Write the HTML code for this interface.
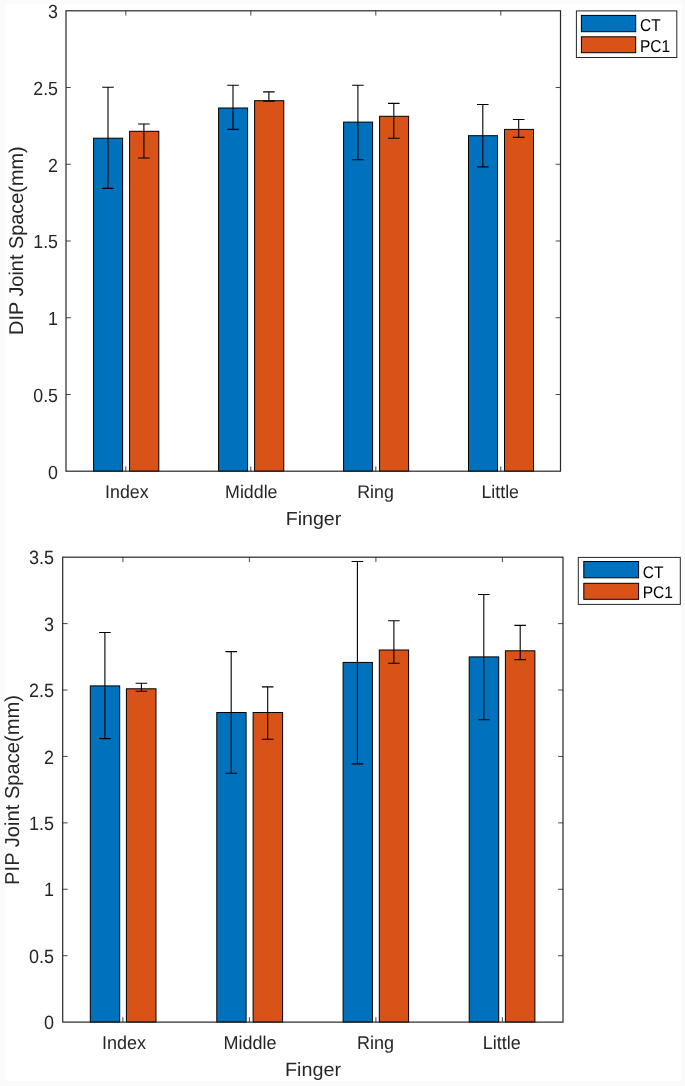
<!DOCTYPE html>
<html><head><meta charset="utf-8"><title>Joint Space</title>
<style>
html,body{margin:0;padding:0;background:#fafafa;}
body{width:685px;height:1086px;overflow:hidden;position:relative;}
#page{position:absolute;left:4.5px;top:4px;width:676.8px;height:1077px;background:#fff;}
svg{position:absolute;left:0;top:0;display:block;text-rendering:geometricPrecision;filter:blur(0.35px);font-family:"Liberation Sans", Arial, Helvetica, sans-serif;}
</style></head><body>
<div id="page"></div>
<svg width="685" height="1086" viewBox="0 0 685 1086">
<g id="chart-dip">
<rect x="93.6" y="138.2" width="29" height="333" fill="#0072BD" stroke="#000" stroke-width="1.0"/>
<rect x="129.6" y="131.3" width="29.2" height="339.9" fill="#D95319" stroke="#000" stroke-width="1.0"/>
<rect x="218.6" y="108" width="29" height="363.2" fill="#0072BD" stroke="#000" stroke-width="1.0"/>
<rect x="254.6" y="100.7" width="29.2" height="370.5" fill="#D95319" stroke="#000" stroke-width="1.0"/>
<rect x="343.6" y="122.1" width="29" height="349.1" fill="#0072BD" stroke="#000" stroke-width="1.0"/>
<rect x="379.6" y="116.3" width="29" height="354.9" fill="#D95319" stroke="#000" stroke-width="1.0"/>
<rect x="468.5" y="135.7" width="29" height="335.5" fill="#0072BD" stroke="#000" stroke-width="1.0"/>
<rect x="504.5" y="129.4" width="29" height="341.8" fill="#D95319" stroke="#000" stroke-width="1.0"/>
<path d="M108 87.2V188.4M102.2 87.2H113.8M102.2 188.4H113.8" fill="none" stroke="#000" stroke-width="1.1"/>
<path d="M143.9 124V158M138.1 124H149.7M138.1 158H149.7" fill="none" stroke="#000" stroke-width="1.1"/>
<path d="M233 85.3V129.4M227.2 85.3H238.8M227.2 129.4H238.8" fill="none" stroke="#000" stroke-width="1.1"/>
<path d="M268.9 91.9V101.1M263.1 91.9H274.7M263.1 101.1H274.7" fill="none" stroke="#000" stroke-width="1.1"/>
<path d="M357.9 85.3V159.8M352.1 85.3H363.7M352.1 159.8H363.7" fill="none" stroke="#000" stroke-width="1.1"/>
<path d="M393.8 103.4V138.2M388 103.4H399.6M388 138.2H399.6" fill="none" stroke="#000" stroke-width="1.1"/>
<path d="M482.8 104.5V166.9M477 104.5H488.6M477 166.9H488.6" fill="none" stroke="#000" stroke-width="1.1"/>
<path d="M518.7 119.5V137.4M512.9 119.5H524.5M512.9 137.4H524.5" fill="none" stroke="#000" stroke-width="1.1"/>
<rect x="66" y="10.8" width="494.5" height="460.4" fill="none" stroke="#262626" stroke-width="1.2"/>
<path d="M125.8 471.2v-4.8M125.8 10.8v4.8M250.8 471.2v-4.8M250.8 10.8v4.8M375.8 471.2v-4.8M375.8 10.8v4.8M500.8 471.2v-4.8M500.8 10.8v4.8M66 394.47h4.8M560.5 394.47h-4.8M66 317.73h4.8M560.5 317.73h-4.8M66 241h4.8M560.5 241h-4.8M66 164.27h4.8M560.5 164.27h-4.8M66 87.53h4.8M560.5 87.53h-4.8" fill="none" stroke="#262626" stroke-width="0.85"/>
<g font-size="17.8" text-anchor="end" fill="#262626">
<text transform="translate(58 478.5) scale(1 1.07)" font-size="17.8" text-anchor="end" fill="#262626">0</text>
<text transform="translate(58 401.77) scale(1 1.07)" font-size="17.8" text-anchor="end" fill="#262626">0.5</text>
<text transform="translate(58 325.03) scale(1 1.07)" font-size="17.8" text-anchor="end" fill="#262626">1</text>
<text transform="translate(58 248.3) scale(1 1.07)" font-size="17.8" text-anchor="end" fill="#262626">1.5</text>
<text transform="translate(58 171.57) scale(1 1.07)" font-size="17.8" text-anchor="end" fill="#262626">2</text>
<text transform="translate(58 94.83) scale(1 1.07)" font-size="17.8" text-anchor="end" fill="#262626">2.5</text>
<text transform="translate(58 18.1) scale(1 1.07)" font-size="17.8" text-anchor="end" fill="#262626">3</text>
</g>
<g font-size="17.8" text-anchor="middle" fill="#262626">
<text transform="translate(126.8 498) scale(1 1.03)" font-size="17.8" text-anchor="middle" fill="#262626">Index</text>
<text transform="translate(251.3 498) scale(1 1.03)" font-size="17.8" text-anchor="middle" fill="#262626">Middle</text>
<text transform="translate(375.5 498) scale(1 1.03)" font-size="17.8" text-anchor="middle" fill="#262626">Ring</text>
<text transform="translate(500.2 498) scale(1 1.03)" font-size="17.8" text-anchor="middle" fill="#262626">Little</text>
</g>
<text transform="translate(313.45 524.8) scale(1 0.97)" font-size="19.6" text-anchor="middle" fill="#262626">Finger</text>
<text transform="translate(23 240.6) rotate(-90) scale(1 1.0)" font-size="19.9" text-anchor="middle" fill="#262626">DIP Joint Space(mm)</text>
<rect x="576.4" y="10.9" width="100.4" height="46.6" fill="#fff" stroke="#262626" stroke-width="1.0"/>
<rect x="581.4" y="15.4" width="54.3" height="16.3" fill="#0072BD" stroke="#000" stroke-width="1.0"/>
<text transform="translate(640 30.7) scale(1 1.11)" font-size="15.5" fill="#000">CT</text>
<rect x="581.4" y="36.8" width="54.3" height="15.9" fill="#D95319" stroke="#000" stroke-width="1.0"/>
<text transform="translate(640 51.8) scale(1 1.11)" font-size="15.5" fill="#000">PC1</text>
</g>
<g id="chart-pip">
<rect x="90.3" y="685.9" width="29.4" height="336.2" fill="#0072BD" stroke="#000" stroke-width="1.0"/>
<rect x="126.4" y="688.8" width="29.6" height="333.3" fill="#D95319" stroke="#000" stroke-width="1.0"/>
<rect x="216.8" y="712.5" width="29.3" height="309.6" fill="#0072BD" stroke="#000" stroke-width="1.0"/>
<rect x="253.1" y="712.5" width="29.5" height="309.6" fill="#D95319" stroke="#000" stroke-width="1.0"/>
<rect x="343.1" y="662.4" width="29.3" height="359.7" fill="#0072BD" stroke="#000" stroke-width="1.0"/>
<rect x="379.3" y="650" width="29.3" height="372.1" fill="#D95319" stroke="#000" stroke-width="1.0"/>
<rect x="469.2" y="656.9" width="29.5" height="365.2" fill="#0072BD" stroke="#000" stroke-width="1.0"/>
<rect x="505.4" y="650.8" width="29.5" height="371.3" fill="#D95319" stroke="#000" stroke-width="1.0"/>
<path d="M104.9 632.5V738.6M99.1 632.5H110.7M99.1 738.6H110.7" fill="none" stroke="#000" stroke-width="1.1"/>
<path d="M141.4 683.3V691.3M135.6 683.3H147.2M135.6 691.3H147.2" fill="none" stroke="#000" stroke-width="1.1"/>
<path d="M231.2 651.6V773.2M225.4 651.6H237M225.4 773.2H237" fill="none" stroke="#000" stroke-width="1.1"/>
<path d="M267.7 686.9V739.3M261.9 686.9H273.5M261.9 739.3H273.5" fill="none" stroke="#000" stroke-width="1.1"/>
<path d="M357.4 561.5V763.9M351.6 561.5H363.2M351.6 763.9H363.2" fill="none" stroke="#000" stroke-width="1.1"/>
<path d="M393.9 620.8V663.3M388.1 620.8H399.7M388.1 663.3H399.7" fill="none" stroke="#000" stroke-width="1.1"/>
<path d="M483.8 594.5V719.7M478 594.5H489.6M478 719.7H489.6" fill="none" stroke="#000" stroke-width="1.1"/>
<path d="M520.2 625.4V659.6M514.4 625.4H526M514.4 659.6H526" fill="none" stroke="#000" stroke-width="1.1"/>
<rect x="62.7" y="557.2" width="500.3" height="464.9" fill="none" stroke="#262626" stroke-width="1.2"/>
<path d="M122.9 1022.1v-4.9M122.9 557.2v4.9M249.4 1022.1v-4.9M249.4 557.2v4.9M375.9 1022.1v-4.9M375.9 557.2v4.9M502.4 1022.1v-4.9M502.4 557.2v4.9M62.7 955.69h4.9M563 955.69h-4.9M62.7 889.27h4.9M563 889.27h-4.9M62.7 822.86h4.9M563 822.86h-4.9M62.7 756.44h4.9M563 756.44h-4.9M62.7 690.03h4.9M563 690.03h-4.9M62.7 623.61h4.9M563 623.61h-4.9" fill="none" stroke="#262626" stroke-width="0.85"/>
<g font-size="18.0" text-anchor="end" fill="#262626">
<text transform="translate(54.1 1029.2) scale(1 1.07)" font-size="18.0" text-anchor="end" fill="#262626">0</text>
<text transform="translate(54.1 962.79) scale(1 1.07)" font-size="18.0" text-anchor="end" fill="#262626">0.5</text>
<text transform="translate(54.1 896.37) scale(1 1.07)" font-size="18.0" text-anchor="end" fill="#262626">1</text>
<text transform="translate(54.1 829.96) scale(1 1.07)" font-size="18.0" text-anchor="end" fill="#262626">1.5</text>
<text transform="translate(54.1 763.54) scale(1 1.07)" font-size="18.0" text-anchor="end" fill="#262626">2</text>
<text transform="translate(54.1 697.13) scale(1 1.07)" font-size="18.0" text-anchor="end" fill="#262626">2.5</text>
<text transform="translate(54.1 630.71) scale(1 1.07)" font-size="18.0" text-anchor="end" fill="#262626">3</text>
<text transform="translate(54.1 564.3) scale(1 1.07)" font-size="18.0" text-anchor="end" fill="#262626">3.5</text>
</g>
<g font-size="18.0" text-anchor="middle" fill="#262626">
<text transform="translate(123.9 1049.4) scale(1 1.03)" font-size="18.0" text-anchor="middle" fill="#262626">Index</text>
<text transform="translate(249.9 1049.4) scale(1 1.03)" font-size="18.0" text-anchor="middle" fill="#262626">Middle</text>
<text transform="translate(375.6 1049.4) scale(1 1.03)" font-size="18.0" text-anchor="middle" fill="#262626">Ring</text>
<text transform="translate(501.8 1049.4) scale(1 1.03)" font-size="18.0" text-anchor="middle" fill="#262626">Little</text>
</g>
<text transform="translate(313.05 1075.7) scale(1 0.97)" font-size="19.8" text-anchor="middle" fill="#262626">Finger</text>
<text transform="translate(18.6 789.95) rotate(-90) scale(1 1.0)" font-size="20.15" text-anchor="middle" fill="#262626">PIP Joint Space(mm)</text>
<rect x="578.3" y="557.4" width="102" height="47" fill="#fff" stroke="#262626" stroke-width="1.0"/>
<rect x="583.8" y="561.5" width="54.8" height="16.3" fill="#0072BD" stroke="#000" stroke-width="1.0"/>
<text transform="translate(642.7 577.7) scale(1 1.08)" font-size="15.6" fill="#000">CT</text>
<rect x="583.8" y="583.3" width="54.8" height="16" fill="#D95319" stroke="#000" stroke-width="1.0"/>
<text transform="translate(642.7 598.4) scale(1 1.08)" font-size="15.6" fill="#000">PC1</text>
</g>
</svg>
</body></html>
